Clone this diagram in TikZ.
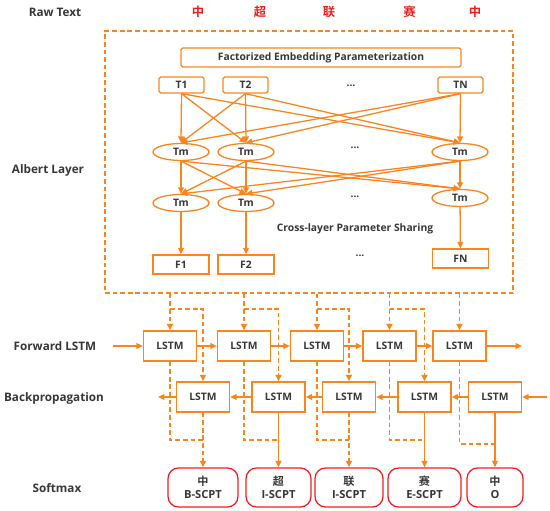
\documentclass[tikz,border=0pt]{standalone}
\usepackage{fontspec}
\setmainfont{Open Sans}
\newfontfamily\cjk{Noto Sans CJK SC}[BoldFont={Noto Sans CJK SC Bold}]
\usetikzlibrary{arrows.meta, shapes.geometric}
\definecolor{albertorange}{RGB}{250,133,30}
\definecolor{tagred}{RGB}{240,30,30}
\definecolor{labelgray}{RGB}{55,55,55}

\begin{document}
\begin{tikzpicture}[x=0.03cm, y=-0.03cm,
	every node/.style={font=\bfseries\fontsize{8.8}{10}\selectfont, text=labelgray},
	side/.style={font=\bfseries\fontsize{10}{12}\selectfont},
	rawchar/.style={font=\cjk\bfseries\fontsize{10.5}{12}\selectfont, text=tagred},
	tbox/.style={draw=albertorange, line width=1.1pt, rounded corners=1.5pt, minimum width=1.35cm, minimum height=0.48cm, inner sep=0pt},
	tmnode/.style={ellipse, draw=albertorange, line width=1.1pt, minimum width=1.68cm, minimum height=0.51cm, inner sep=0pt},
	fbox/.style={draw=albertorange, line width=1.1pt, minimum width=1.68cm, minimum height=0.57cm, inner sep=0pt},
	lstm/.style={draw=albertorange, line width=1.1pt, minimum width=1.59cm, minimum height=0.9cm, inner sep=0pt},
	tag/.style={draw=tagred, line width=1.1pt, rounded corners=9pt, minimum height=1.17cm, inner sep=0pt, align=center, font=\bfseries\fontsize{9.5}{11.3}\selectfont},
	link/.style={albertorange, line width=1.1pt, -{Triangle[length=5.5pt,width=5pt]}},
	dline/.style={albertorange, line width=1.4pt, dash pattern=on 4pt off 2.5pt},
	dlink/.style={link, line width=1.4pt, dash pattern=on 4pt off 2.5pt}]
	
	\useasboundingbox (0,0) rectangle (550,511);
	
	%%% Etichette a sinistra
	\node[side] (lraw) at (55,12) {Raw Text};
	\node[side] (lalb) at (48,170) {Albert Layer};
	\node[side] (lfwd) at (55,346) {Forward LSTM};
	\node[side] (lbwd) at (54,398) {Backpropagation};
	\node[side] (lsoft) at (57,488) {Softmax};
	
	%%% Testo grezzo
	\node[rawchar] (c1) at (198,12) {中};
	\node[rawchar] (c2) at (260,12) {超};
	\node[rawchar] (c3) at (329,12) {联};
	\node[rawchar] (c4) at (409.5,12) {赛};
	\node[rawchar] (c5) at (475,12) {中};
	
	%%% Albert
	\node[draw=albertorange, line width=1.3pt, dash pattern=on 4pt off 2.5pt, minimum width=12.24cm, minimum height=7.86cm] (albert) at (309,162) {};
	\node[tbox, minimum width=8.4cm, minimum height=0.57cm] (fep) at (321,57.5) {Factorized Embedding Parameterization};
	\node[tbox] (t1) at (181.5,85) {T1};
	\node[tbox] (t2) at (245.5,85) {T2};
	\node[tbox] (tn) at (460.5,85) {TN};
	\node (tdots) at (351,86) {...};
	
	\node[tmnode] (m1) at (181,152) {Tm};
	\node[tmnode] (m2) at (246,152) {Tm};
	\node[tmnode] (mn) at (460,152) {Tm};
	\node (mdots) at (355,148) {...};
	
	\node[tmnode] (s1) at (181,203) {Tm};
	\node[tmnode] (s2) at (246,203) {Tm};
	\node[tmnode] (sn) at (460,198) {Tm};
	\node (sdots) at (355,197) {...};
	
	\node (share) at (355,229) {Cross-layer Parameter Sharing};
	
	\node[fbox] (f1) at (181,264.5) {F1};
	\node[fbox] (f2) at (246,264.5) {F2};
	\node[fbox] (fn) at (460.5,258.5) {FN};
	\node (fdots) at (360,256) {...};
	
	\foreach \a in {t1,t2,tn}
		\foreach \b in {m1,m2,mn}
			\draw[link] (\a.south) -- (\b.north);
	\foreach \a in {m1,m2,mn}
		\foreach \b in {s1,s2,sn}
			\draw[link] (\a.south) -- (\b.north);
	\foreach \a/\b in {s1/f1, s2/f2, sn/fn}
		\draw[link] (\a) -- (\b);
	
	%%% LSTM
	\foreach \i/\x in {1/170, 2/244, 3/317, 4/389.5, 5/459.5}
		\node[lstm] (fw\i) at (\x,346) {LSTM};
	\foreach \i/\x in {1/203, 2/278.5, 3/349, 4/424.5, 5/495}
		\node[lstm] (bw\i) at (\x,397) {LSTM};
	
	\coordinate (fin) at (113,346);
	\coordinate (fout) at (522,346);
	\coordinate (bin) at (547,397);
	\coordinate (bout) at (158,397);
	\coordinate (upsplit) at (0,309);
	\coordinate (downsplit) at (0,440);
	
	\draw[link] (fin) -- (fw1);
	\foreach \i/\j in {1/2, 2/3, 3/4, 4/5}
		\draw[link] (fw\i) -- (fw\j);
	\draw[link] (fw5) -- (fout);
	\draw[link] (bin) -- (bw5);
	\foreach \i/\j in {5/4, 4/3, 3/2, 2/1}
		\draw[link] (bw\i) -- (bw\j);
	\draw[link] (bw1) -- (bout);
	
	%%% Softmax
	\node[tag, minimum width=2.1cm] (o1) at (203,487.5) {{\cjk 中}\\B-SCPT};
	\node[tag, minimum width=1.95cm] (o2) at (278.5,487.5) {{\cjk 超}\\I-SCPT};
	\node[tag, minimum width=2.04cm] (o3) at (349,487.5) {{\cjk 联}\\I-SCPT};
	\node[tag, minimum width=2.19cm] (o4) at (424.5,487.5) {{\cjk 赛}\\E-SCPT};
	\node[tag, minimum width=1.68cm] (o5) at (495,487.5) {{\cjk 中}\\O};
	
	%%% Collegamenti tratteggiati
	\foreach \i in {1,...,5}
		\draw[dlink] (fw\i |- albert.south) -- (fw\i.north);
	\foreach \i in {1,...,4}
		\draw[dlink] (fw\i |- upsplit) -| (bw\i.north);
	\foreach \i in {1,...,4}
		\draw[dline] (fw\i.south) |- (bw\i |- downsplit);
	\draw[dline] (fw5.south) |- ([yshift=-4*0.03cm]bw5 |- downsplit);
	\foreach \i/\s in {1/dlink, 2/link, 3/dlink, 4/link, 5/link}
		\draw[\s] (bw\i.south) -- (o\i.north);
\end{tikzpicture}
\end{document}
